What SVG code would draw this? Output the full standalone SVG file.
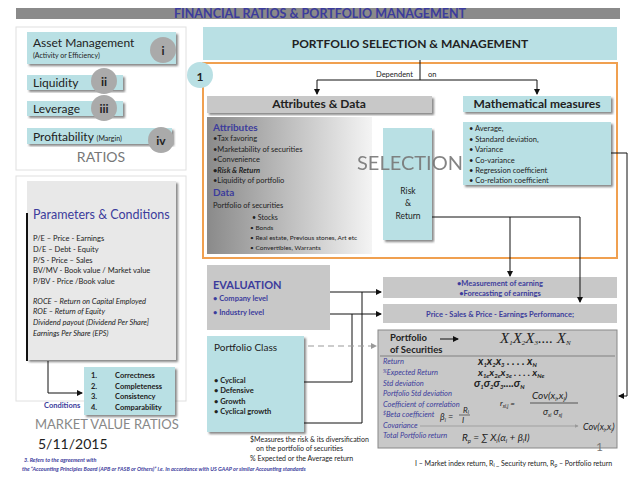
<svg xmlns="http://www.w3.org/2000/svg" width="638" height="478" viewBox="0 0 638 478">
<defs>
<linearGradient id="g1" x1="0" x2="1" y1="0" y2="0"><stop offset="0" stop-color="#8a8a8a"/><stop offset="1" stop-color="#f4f4f4"/></linearGradient>
<marker id="ar" markerWidth="6" markerHeight="6" refX="5" refY="3" orient="auto"><path d="M0,0 L6,3 L0,6 z" fill="#111"/></marker>
<marker id="arg" markerWidth="6" markerHeight="6" refX="5" refY="3" orient="auto"><path d="M0,0 L6,3 L0,6 z" fill="#999"/></marker>
<filter id="sh" x="-5%" y="-5%" width="110%" height="120%"><feDropShadow dx="2" dy="2" stdDeviation="0.8" flood-color="#555" flood-opacity="0.7"/></filter>
</defs>
<style>
text{font-family:Lato,"Liberation Sans",sans-serif;fill:#222}
.lb{fill:#b9e0e4}
.gr{fill:#c8c8c8}
.bl{fill:#3c3c9c}
.b{font-weight:bold}
.it{font-style:italic}
.c{fill:#aaa}
.ct{font-weight:bold;font-size:12px;text-anchor:middle}
.m{font-family:"Liberation Serif",serif;font-style:italic}
.ln{stroke:#111;fill:none;stroke-width:1}
</style>
<rect width="638" height="478" fill="#fff"/>
<g id="title"><rect x="16" y="8" width="604" height="11" fill="#8a8a8a"/><text x="320" y="18" class="bl b" font-size="12.5" text-anchor="middle">FINANCIAL RATIOS &amp; PORTFOLIO MANAGEMENT</text></g>

<g id="ratios">
<rect x="16" y="27" width="170" height="143" fill="#fff" stroke="#e0e0e0"/>
<rect x="27" y="32" width="149" height="32" class="lb" filter="url(#sh)"/>
<text x="33" y="47" font-size="12">Asset Management</text><text x="33" y="58" font-size="7">(Activity or Efficiency)</text>
<circle cx="163" cy="50" r="13" class="c"/><text x="163" y="55" class="ct" font-size="14">i</text>
<rect x="27" y="75" width="96" height="15" class="lb" filter="url(#sh)"/><text x="33" y="87" font-size="12">Liquidity</text>
<circle cx="104" cy="81" r="13" class="c"/><text x="104" y="86" class="ct">ii</text>
<rect x="27" y="101" width="96" height="15" class="lb" filter="url(#sh)"/><text x="33" y="113" font-size="12">Leverage</text>
<circle cx="104" cy="108" r="13" class="c"/><text x="104" y="113" class="ct">iii</text>
<rect x="27" y="128" width="145" height="16" class="lb" filter="url(#sh)"/><text x="33" y="141" font-size="12">Profitability <tspan font-size="7">(Margin)</tspan></text>
<circle cx="161" cy="140" r="13" class="c"/><text x="161" y="145" class="ct">iv</text>
<text x="101" y="162" font-size="14" text-anchor="middle" style="fill:#777">RATIOS</text>
</g>

<g id="params">
<rect x="16" y="176" width="170" height="225" fill="#fff" stroke="#e0e0e0"/>
<rect x="27" y="181" width="149" height="179" fill="#e8e8e8" filter="url(#sh)"/>
<rect x="26" y="213" width="2" height="148" fill="#111"/>
<text x="33" y="219" font-size="12.5" class="bl">Parameters &amp; Conditions</text>
<g font-size="7.5">
<text x="33" y="241">P/E – Price - Earnings</text><text x="33" y="252">D/E – Debt - Equity</text><text x="33" y="263">P/S  - Price – Sales</text><text x="33" y="273">BV/MV - Book value / Market value</text><text x="33" y="284">P/BV - Price /Book value</text>
<text x="33" y="304" class="it">ROCE – Return on Capital Employed</text><text x="33" y="314" class="it">ROE – Return of Equity</text><text x="33" y="325" class="it">Dividend payout  (Dividend Per Share]</text><text x="33" y="336" class="it">Earnings Per Share (EPS)</text>
</g>
</g>
<g id="conditions">
<rect x="84" y="367" width="91" height="48" class="lb" filter="url(#sh)"/>
<g font-size="7.5" class="b"><text x="91" y="378">1.</text><text x="115" y="378">Correctness</text><text x="91" y="389">2.</text><text x="115" y="389">Completeness</text><text x="91" y="399">3.</text><text x="115" y="399">Consistency</text><text x="91" y="410">4.</text><text x="115" y="410">Comparability</text></g>
<text x="44" y="408" font-size="7.5" class="bl b">Conditions</text>
<text x="35" y="429" font-size="13" style="fill:#888">MARKET VALUE RATIOS</text>
<text x="38" y="449" font-size="14" font-family="Liberation Sans,sans-serif">5/11/2015</text>
<text x="24" y="462" font-size="5.5" class="bl b it">3. Refers to the agreement with</text>
<text x="22" y="471" font-size="5.5" class="bl b it">the “Accounting Principles Board (APB or FASB or Others)” i.e.  In accordance with US GAAP or similar Accounting standards</text>
</g>

<g id="selection">
<rect x="203" y="27" width="414" height="33" class="lb"/>
<text x="410" y="48" class="ct">PORTFOLIO SELECTION &amp; MANAGEMENT</text>
<rect x="203" y="63" width="414" height="195" fill="none" stroke="#f0a050" stroke-width="2"/>
<circle cx="200" cy="75" r="13" class="lb"/><text x="200" y="81" class="ct" font-size="16">1</text>
<text x="376" y="77" font-size="7.5">Dependent</text><text x="428" y="77" font-size="7.5">on</text>
<rect x="207" y="96" width="225" height="17" class="gr" filter="url(#sh)"/><text x="319" y="108" class="ct" font-size="9.5">Attributes &amp; Data</text>
<rect x="463" y="96" width="148" height="16" class="lb" filter="url(#sh)"/><text x="537" y="108" class="ct" font-size="9.5">Mathematical measures</text>
<rect x="207" y="117" width="165" height="137" fill="url(#g1)"/>
<text x="213" y="131" font-size="10" class="bl b">Attributes</text>
<g font-size="7.5"><text x="213" y="141">•Tax favoring</text><text x="213" y="152">•Marketability of securities</text><text x="213" y="162">•Convenience</text><text x="213" y="173" class="b it">•Risk &amp; Return</text><text x="213" y="183">•Liquidity of portfolio</text>
<text x="213" y="196" font-size="10" class="bl b">Data</text><text x="213" y="208">Portfolio of securities</text>
<text x="252" y="220" font-size="7">•  Stocks</text><text x="250" y="230" font-size="6.5">• Bonds</text><text x="250" y="240" font-size="6.5">• Real estate, Previous stones, Art etc</text><text x="250" y="250" font-size="6.5">• Convertibles, Warrants</text></g>
<rect x="383" y="128" width="49" height="112" class="lb" filter="url(#sh)"/>
<text x="408" y="194" font-size="8.5" text-anchor="middle">Risk</text><text x="408" y="206" font-size="8.5" text-anchor="middle">&amp;</text><text x="408" y="219" font-size="8.5" text-anchor="middle">Return</text>
<text x="410" y="170" font-size="20" text-anchor="middle" style="fill:#777" opacity="0.9">SELECTION</text>
<rect x="463" y="122" width="148" height="63" class="lb" filter="url(#sh)"/>
<g font-size="7.5"><text x="469" y="131">• Average,</text><text x="469" y="142">• Standard deviation,</text><text x="469" y="152">• Variance</text><text x="469" y="163">• Co-variance</text><text x="469" y="173">• Regression coefficient</text><text x="469" y="183">• Co-relation coefficient</text></g>
</g>

<g id="evaluation">
<rect x="207" y="265" width="123" height="65" class="gr"/>
<text x="213" y="289" font-size="11" class="bl b">EVALUATION</text>
<text x="213" y="301" font-size="7.5" class="bl b">• Company level</text><text x="213" y="315" font-size="7.5" class="bl b">• Industry level</text>
<rect x="383" y="277" width="234" height="21" class="gr"/>
<text x="500" y="286" font-size="7.5" class="bl b" text-anchor="middle">•Measurement of earning</text><text x="500" y="296" font-size="7.5" class="bl b" text-anchor="middle">•Forecasting of earnings</text>
<rect x="383" y="304" width="234" height="19" class="gr"/>
<text x="500" y="317" font-size="7.5" class="bl b" text-anchor="middle">Price - Sales &amp; Price - Earnings Performance;</text>
</g>
<g id="portclass">
<rect x="207" y="336" width="97" height="96" class="lb" filter="url(#sh)"/>
<text x="214" y="351" font-size="10">Portfolio Class</text>
<g font-size="7.5" class="b"><text x="214" y="383">• Cyclical</text><text x="214" y="393">• Defensive</text><text x="214" y="404">• Growth</text><text x="214" y="414">• Cyclical growth</text></g>
</g>
<g id="securities">
<rect x="378" y="330" width="239" height="118" class="gr" stroke="#888"/>
<line x1="380" y1="356" x2="615" y2="356" stroke="#999" stroke-width="1.5"/>
<text x="390" y="341" font-size="9.5" class="b">Portfolio</text><text x="390" y="353" font-size="9.5" class="b">of Securities</text>
<text x="500" y="343" font-size="15" class="m">X<tspan font-size="7" dy="2">1</tspan><tspan dy="-2">X</tspan><tspan font-size="7" dy="2">2</tspan><tspan dy="-2">X</tspan><tspan font-size="7" dy="2">3</tspan><tspan dy="-2">.... X</tspan><tspan font-size="7" dy="2">N</tspan></text>
<g font-size="7.5" class="it">
<text x="383" y="364" class="bl">Return</text><text x="383" y="375" class="bl"><tspan font-size="5" dy="-2">%</tspan><tspan dy="2">Expected Return</tspan></text><text x="383" y="386" class="bl">Std deviation</text><text x="383" y="396" class="bl">Portfolio Std deviation</text><text x="383" y="407" class="bl">Coefficient of correlation</text><text x="383" y="417" class="bl"><tspan font-size="5" dy="-2">$</tspan><tspan dy="2">Beta coefficient</tspan></text><text x="383" y="428" class="bl">Covariance</text><text x="383" y="438" class="bl">Total Portfolio return</text>
</g>
<g class="m">
<text x="478" y="365" font-size="11" font-weight="bold">x<tspan font-size="6" dy="2">1</tspan><tspan dy="-2">x</tspan><tspan font-size="6" dy="2">2</tspan><tspan dy="-2">x</tspan><tspan font-size="6" dy="2">3</tspan><tspan dy="-2"> . . . . x</tspan><tspan font-size="6" dy="2">N</tspan></text>
<text x="478" y="376" font-size="10" font-weight="bold">x<tspan font-size="6" dy="2">1e</tspan><tspan dy="-2">x</tspan><tspan font-size="6" dy="2">2e</tspan><tspan dy="-2">x</tspan><tspan font-size="6" dy="2">3e</tspan><tspan dy="-2"> . . . . x</tspan><tspan font-size="6" dy="2">Ne</tspan></text>
<text x="474" y="387" font-size="11" font-weight="bold">σ<tspan font-size="6" dy="2">1</tspan><tspan dy="-2">σ</tspan><tspan font-size="6" dy="2">2</tspan><tspan dy="-2">σ</tspan><tspan font-size="6" dy="2">3</tspan><tspan dy="-2">....σ</tspan><tspan font-size="6" dy="2">N</tspan></text>
<text x="532" y="399" font-size="10">Cov(x<tspan font-size="6" dy="2">i</tspan><tspan dy="-2">,x</tspan><tspan font-size="6" dy="2">j</tspan><tspan dy="-2">)</tspan></text>
<line x1="530" y1="403" x2="578" y2="403" stroke="#222" stroke-width="0.7"/>
<text x="500" y="406" font-size="8">r<tspan font-size="5" dy="2">xi,j</tspan><tspan dy="-2">  =</tspan></text>
<text x="543" y="415" font-size="9">σ<tspan font-size="5" dy="2">xi</tspan><tspan dy="-2"> σ</tspan><tspan font-size="5" dy="2">xj</tspan></text>
<text x="440" y="420" font-size="9">β<tspan font-size="5" dy="2">i</tspan><tspan dy="-2"> =</tspan></text>
<text x="463" y="413" font-size="8">R<tspan font-size="5" dy="1">i</tspan></text>
<line x1="459" y1="415" x2="470" y2="415" stroke="#222" stroke-width="0.6"/>
<text x="462" y="423" font-size="8">I</text>
<text x="583" y="430" font-size="9">Cov(x<tspan font-size="5" dy="2">i</tspan><tspan dy="-2">,x</tspan><tspan font-size="5" dy="2">j</tspan><tspan dy="-2">)</tspan></text>
<text x="462" y="441" font-size="10">R<tspan font-size="6" dy="2">p</tspan><tspan dy="-2"> = ∑ X</tspan><tspan font-size="6" dy="2">i</tspan><tspan dy="-2">(α</tspan><tspan font-size="6" dy="2">i</tspan><tspan dy="-2"> + β</tspan><tspan font-size="6" dy="2">i</tspan><tspan dy="-2">I)</tspan></text>
</g>
<line x1="420" y1="426" x2="578" y2="426" stroke="#888" stroke-width="0.6" marker-end="url(#arg)"/>
<text x="596" y="451" font-size="12" style="fill:#777">1</text>
</g>
<g id="notes" font-size="7">
<text x="250" y="442">$Measures the risk &amp; its diversification</text>
<text x="256" y="451">on the portfolio of securities</text>
<text x="250" y="461">% Expected or the Average return</text>
<text x="415" y="466">I – Market index return, R<tspan font-size="5" dy="1">i </tspan><tspan dy="-1">_ Security return, R</tspan><tspan font-size="5" dy="1">p</tspan><tspan dy="-1"> – Portfolio return</tspan></text>
</g>

<g id="connectors">
<path class="ln" d="M420,60 V80"/>
<path class="ln" d="M317,80 H537"/>
<path class="ln" d="M317,80 V94" marker-end="url(#ar)"/>
<path class="ln" d="M537,80 V94" marker-end="url(#ar)"/>
<path class="ln" d="M611,153 H627 V396 H619" marker-end="url(#ar)"/>
<path class="ln" d="M432,217 H580 V302" marker-end="url(#ar)"/>
<path class="ln" d="M510,217 V276" marker-end="url(#ar)"/>
<path class="ln" d="M330,292 H381" marker-end="url(#ar)"/>
<path class="ln" d="M330,314 H381" marker-end="url(#ar)"/>
<path class="ln" d="M362,292 V423 H304"/>
<path class="ln" d="M352,314 V382 H304"/>
<path d="M308,346 H376" stroke="#999" stroke-dasharray="6,4" fill="none" marker-end="url(#arg)"/>
<path class="ln" d="M440,339 H458" marker-end="url(#ar)"/>
<path class="ln" d="M48,361 V393 H82" marker-end="url(#ar)"/>
</g>
</svg>
